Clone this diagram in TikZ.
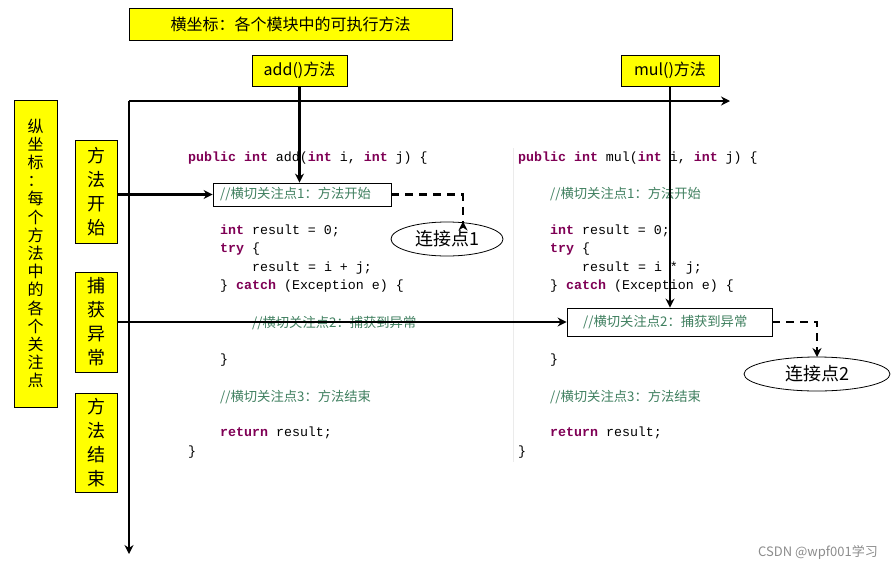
\documentclass[tikz,border=0pt]{standalone}
\usepackage{fontspec}
\setmainfont{Liberation Sans}
\setmonofont{Liberation Mono}
\newfontfamily\cjk{Noto Sans CJK SC}
\usetikzlibrary{arrows.meta,shapes.geometric}
\definecolor{kw}{HTML}{7F0055}
\definecolor{cm}{HTML}{3F7F5F}
\definecolor{ybox}{HTML}{FFFF00}
\newcommand{\kw}[1]{\textcolor{kw}{\bfseries #1}}
\newcommand{\cmt}[1]{\textcolor{cm}{\cjk #1}}
\begin{document}
\begin{tikzpicture}[x=1pt,y=-1pt,
  yb/.style={draw,fill=ybox,inner sep=0,font=\cjk\fontsize{16}{19}\selectfont},
  ax/.style={line width=2.2pt,-{Stealth[length=9pt,width=9pt]}},
  dsh/.style={line width=2.2pt,dash pattern=on 8pt off 6pt,-{Stealth[length=9pt,width=9pt]}},
  code/.style={anchor=west,inner sep=0,font=\ttfamily\fontsize{13.3}{15}\selectfont},
  cbox/.style={draw,line width=0.8pt,fill=white,inner sep=0},
  ell/.style={draw,ellipse,line width=0.8pt,inner sep=0,font=\cjk\fontsize{18}{20}\selectfont}]
\useasboundingbox (0,0) rectangle (892,571);
% faint separator
\draw[black!8,line width=0.8pt] (513,148) -- (513,462);
% title boxes
\node[yb,minimum width=323,minimum height=32] (title) at (290.5,24) {横坐标：各个模块中的可执行方法};
\node[yb,minimum width=95,minimum height=31] (add) at (299.5,70.5) {add()方法};
\node[yb,minimum width=98,minimum height=31] (mul) at (670,70.5) {mul()方法};
\node[yb,minimum width=43,minimum height=307,align=center,font=\cjk\fontsize{16}{18.2}\selectfont] (vert) at (35.5,253.5)
 {纵\\坐\\标\\：\\每\\个\\方\\法\\中\\的\\各\\个\\关\\注\\点};
\node[yb,minimum width=42,minimum height=103,align=center,font=\cjk\fontsize{18}{24}\selectfont] (start) at (96,191.5) {方\\法\\开\\始};
\node[yb,minimum width=42,minimum height=100,align=center,font=\cjk\fontsize{18}{24}\selectfont] (catch) at (96,322) {捕\\获\\异\\常};
\node[yb,minimum width=42,minimum height=99,align=center,font=\cjk\fontsize{18}{24}\selectfont] (end) at (96,442.5) {方\\法\\结\\束};
% axes
\coordinate (o) at (129,101);
\coordinate (xe) at (730,101);
\coordinate (ye) at (129,554);
\draw[ax] (o) -- (xe);
\draw[ax] (o) -- (ye);
% add code
\node[code] (a1) at (188,158) {\kw{public} \kw{int} add(\kw{int} i, \kw{int} j) \{};
\node[code] (a3) at (220,231) {\kw{int} result = 0;};
\node[code] (a4) at (220,249.5) {\kw{try} \{};
\node[code] (a5) at (252,268) {result = i + j;};
\node[code] (a6) at (220,286.5) {\} \kw{catch} (Exception e) \{};
\node[code] (a7) at (252,323) {\cmt{//横切关注点2：捕获到异常}};
\node[code] (a8) at (220,360) {\}};
\node[code] (a9) at (220,397) {\cmt{//横切关注点3：方法结束}};
\node[code] (a10) at (220,433) {\kw{return} result;};
\node[code] (a11) at (188,452) {\}};
% mul code
\node[code] (m1) at (518,158) {\kw{public} \kw{int} mul(\kw{int} i, \kw{int} j) \{};
\node[code] (m2) at (550,194) {\cmt{//横切关注点1：方法开始}};
\node[code] (m3) at (550,231) {\kw{int} result = 0;};
\node[code] (m4) at (550,249.5) {\kw{try} \{};
\node[code] (m5) at (582,268) {result = i * j;};
\node[code] (m6) at (550,286.5) {\} \kw{catch} (Exception e) \{};
\node[code] (m8) at (550,360) {\}};
\node[code] (m9) at (550,397) {\cmt{//横切关注点3：方法结束}};
\node[code] (m10) at (550,433) {\kw{return} result;};
\node[code] (m11) at (518,452) {\}};
% highlighted boxes
\node[cbox,minimum width=178,minimum height=23] (b1) at (302,194.5) {};
\node[code] (b1t) at (220,194.5) {\cmt{//横切关注点1：方法开始}};
\node[cbox,minimum width=205,minimum height=28] (b2) at (669.5,322) {};
\node[code] (b2t) at (583,322) {\cmt{//横切关注点2：捕获到异常}};
% ellipses
\node[ell,minimum width=112,minimum height=34] (e1) at (447,239) {连接点1};
\node[ell,minimum width=146,minimum height=34] (e2) at (817,374) {连接点2};
% arrows
\draw[ax] (start.east |- b1.west) -- (b1.west);
\draw[ax] (add.south) -- (add.south |- b1.north);
\draw[ax] (catch.east |- b2.west) -- (b2.west);
\draw[ax] (mul.south) -- (mul.south |- b2.north);
\draw[dsh] (b1.east) -| (463,0 |- e1.north) -- (463,221.5);
\draw[dsh] (b2.east) -| (817,357);
% watermark
\node[anchor=east,inner sep=0,text=black!45,font=\cjk\fontsize{13}{15}\selectfont] (wm) at (878,552) {CSDN @wpf001学习};
\end{tikzpicture}
\end{document}
